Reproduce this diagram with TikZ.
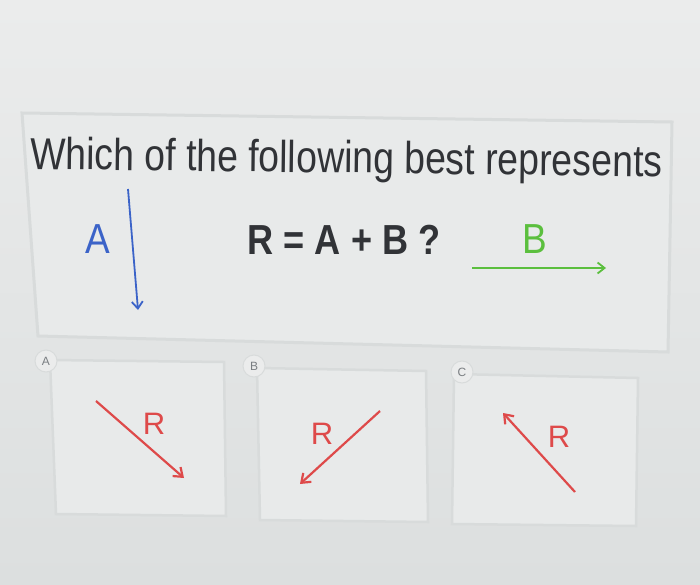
\documentclass[tikz,border=0pt]{standalone}
\usepackage{fontspec}
\setmainfont{Liberation Sans}
\usetikzlibrary{arrows.meta}
\definecolor{bgtop}{HTML}{EBECEC}
\definecolor{bgbot}{HTML}{DCDFDF}
\definecolor{card}{HTML}{E8EAEA}
\definecolor{cardline}{HTML}{D8DBDB}
\definecolor{txt}{HTML}{313337}
\definecolor{vblue}{HTML}{3B63C8}
\definecolor{vgreen}{HTML}{5BBF3E}
\definecolor{vred}{HTML}{DE4A4A}
\definecolor{badge}{HTML}{7A7E82}
\tikzset{
  vecA/.style={draw=vblue, line width=1.8pt, -{Straight Barb[length=7pt,width=11pt,line width=1.8pt]}},
  vecB/.style={draw=vgreen, line width=1.8pt, -{Straight Barb[length=7pt,width=11pt,line width=1.8pt]}},
  vecR/.style={draw=vred, line width=2.2pt, -{Straight Barb[length=8pt,width=12pt,line width=2.2pt]}},
  optbox/.style={draw=cardline, line width=2.5pt, fill=card},
  badgecirc/.style={circle, draw=cardline, line width=1pt, fill=bgtop, minimum size=22pt, inner sep=0pt, text=badge, font=\fontsize{12}{12}\selectfont},
  rlabel/.style={text=vred, font=\fontsize{31}{31}\selectfont, inner sep=0pt},
  veclabel/.style={font=\fontsize{42}{42}\selectfont, inner sep=0pt}
}
\begin{document}
\begin{tikzpicture}[x=1pt,y=-1pt]
\useasboundingbox (0,0) rectangle (700,585);
\shade[top color=bgtop, bottom color=bgbot] (0,0) rectangle (700,585);
% question card
\draw[optbox, line width=3pt] (22,113) -- (672,122) -- (668,352) -- (38,336) -- cycle;
% question text
\node[text=txt, inner sep=0pt, anchor=base west, rotate=-0.7] (q) at (30,169)
  {\scalebox{0.87}[1.04]{\fontsize{43}{43}\selectfont Which of the following best represents}};
% vector A
\node[veclabel, text=vblue] (la) at (98,239) {\scalebox{0.88}[1]{A}};
\coordinate (a1) at (128,189);
\coordinate (a2) at (138,310);
\draw[vecA] (a1) -- (a2);
% equation
\node[text=txt, inner sep=0pt] (eq) at (344,240)
  {\scalebox{0.86}[1]{\fontsize{42}{42}\selectfont\bfseries R = A + B ?}};
% vector B
\node[veclabel, text=vgreen] (lb) at (535,239) {\scalebox{0.88}[1]{B}};
\coordinate (b1) at (472,268);
\coordinate (b2) at (606,268);
\draw[vecB] (b1) -- (b2);
% option boxes
\draw[optbox] (50,360) -- (224,362) -- (226,516) -- (56,514) -- cycle;
\draw[optbox] (257,368) -- (426,371) -- (428,522) -- (260,520) -- cycle;
\draw[optbox] (454,374) -- (638,378) -- (636,526) -- (452,524) -- cycle;
\node[badgecirc] (oa) at (46,361) {A};
\node[badgecirc] (ob) at (254,366) {B};
\node[badgecirc] (oc) at (462,372) {C};
% option A
\coordinate (ra1) at (96,401);
\coordinate (ra2) at (184,478);
\draw[vecR] (ra1) -- (ra2);
\node[rlabel] (rA) at (154,424) {R};
% option B
\coordinate (rb1) at (380,411);
\coordinate (rb2) at (300,484);
\draw[vecR] (rb1) -- (rb2);
\node[rlabel] (rB) at (322,434) {R};
% option C
\coordinate (rc1) at (575,492);
\coordinate (rc2) at (503,413);
\draw[vecR] (rc1) -- (rc2);
\node[rlabel] (rC) at (559,437) {R};
\end{tikzpicture}
\end{document}
